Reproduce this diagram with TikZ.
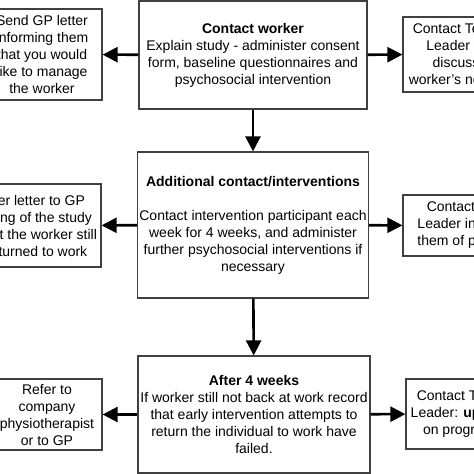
\documentclass[tikz,border=0pt]{standalone}
\usepackage{fontspec}
\setmainfont{Liberation Sans}
\usetikzlibrary{arrows.meta}

\begin{document}
\begin{tikzpicture}[x=1pt,y=-1pt,
    box/.style={draw=black!75,line width=1.2pt,align=center,inner sep=0pt,font=\fontsize{14}{17}\selectfont},
    arr/.style={line width=2.6pt,-{Triangle[length=15pt,width=15pt]}}]
  \clip (0,0) rectangle (474,474);
  % middle column
  \node[box,minimum width=228pt,minimum height=108pt] (contact) at (253,55)
    {\textbf{Contact worker}\\Explain study - administer consent\\form, baseline questionnaires and\\psychosocial intervention};
  \node[box,minimum width=231pt,minimum height=146pt] (addcontact) at (253,225)
    {\textbf{Additional contact/interventions}\\[17pt]Contact intervention participant each\\week for 4 weeks, and administer\\further psychosocial interventions if\\necessary};
  \node[box,minimum width=232pt,minimum height=117pt] (after) at (254,414.5)
    {\textbf{After 4 weeks}\\If worker still not back at work record\\that early intervention attempts to\\return the individual to work have\\failed.};
  % left column
  \node[box,minimum width=120pt,minimum height=91pt] (gpletter) at (42,54.5)
    {Send GP letter\\informing them\\that you would\\like to manage\\the worker};
  \node[box,minimum width=152pt,minimum height=83pt] (gpfurther) at (25,225.5)
    {Further letter to GP\\informing of the study\\and that the worker still\\not returned to work};
  \node[box,minimum width=110pt,minimum height=71pt] (physio) at (47,414.5)
    {Refer to\\company\\physiotherapist\\or to GP};
  % right column
  \node[box,minimum width=106pt,minimum height=75pt] (teamlead) at (456,54.5)
    {Contact Team\\Leader to\\discuss\\worker's needs};
  \node[box,minimum width=134pt,minimum height=61pt] (teaminform) at (470,225.5)
    {Contact Team\\Leader informing\\them of progress};
  \node[box,minimum width=108pt,minimum height=70pt] (teamupdate) at (460,414)
    {Contact Team\\Leader: \textbf{update}\\on progress};
  % arrows
  \draw[arr] (contact) -- (addcontact);
  \draw[arr] (addcontact) -- (after);
  \draw[arr] (contact) -- (gpletter);
  \draw[arr] (contact) -- (teamlead);
  \draw[arr] (addcontact) -- (gpfurther);
  \draw[arr] (addcontact) -- (teaminform);
  \draw[arr] (after) -- (physio);
  \draw[arr] (after) -- (teamupdate);
\end{tikzpicture}
\end{document}
